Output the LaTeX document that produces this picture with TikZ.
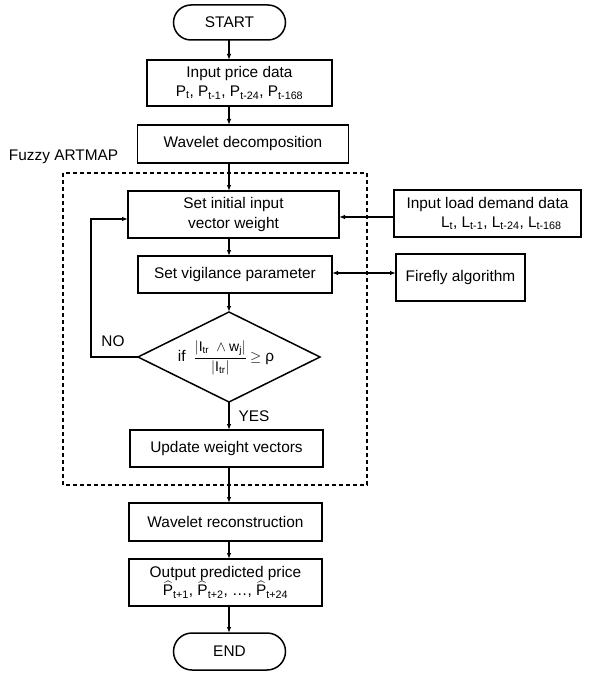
\documentclass[tikz,border=0pt]{standalone}
\usepackage{fontspec}
\usepackage{amsmath}
\setmainfont{Liberation Sans}
\usetikzlibrary{arrows.meta,shapes.geometric,shapes.misc}
\begin{document}
\begin{tikzpicture}[x=1pt,y=-1pt,
  every node/.style={font=\fontsize{15.4}{20}\selectfont, inner sep=0pt, outer sep=0pt},
  box/.style={draw, line width=1.5pt, rectangle, align=center},
  term/.style={draw, line width=1.5pt, rounded rectangle, minimum width=112pt},
  dec/.style={draw, line width=1.5pt, diamond, aspect=2.02, minimum width=182pt, minimum height=90pt},
  arr/.style={line width=1.1pt, -{Latex[length=6pt,width=4.5pt]}},
  darr/.style={line width=1.1pt, {Latex[length=6pt,width=4.5pt]}-{Latex[length=6pt,width=4.5pt]}},
  fuzzy/.style={draw, line width=1.8pt, dash pattern=on 4pt off 3pt}
]
\useasboundingbox (0,0) rectangle (589,679);
\node[term, minimum height=35pt] (start) at (229.5,22.5) {START};
\node[box, minimum width=185pt, minimum height=46pt] (inp) at (239.5,83) {Input price data\\[-1pt] P\textsubscript{t}, P\textsubscript{t-1}, P\textsubscript{t-24}, P\textsubscript{t-168}};
\node[box, minimum width=211pt, minimum height=38pt] (wd) at (243,144) {Wavelet decomposition};
\node[anchor=west] (lbl) at (9,157) {Fuzzy ARTMAP};
\draw[fuzzy] (63,173) rectangle (367,485);
\node[box, minimum width=211pt, minimum height=47pt] (sii) at (233.5,214.5) {Set initial input\\ vector weight};
\node[box, minimum width=187pt, minimum height=47pt] (load) at (487.5,213.5) {Input load demand data\\[-1pt] \hspace*{1.8em}L\textsubscript{t}, L\textsubscript{t-1}, L\textsubscript{t-24}, L\textsubscript{t-168}};
\node[box, minimum width=194pt, minimum height=37pt] (vig) at (235,274.5) {Set vigilance parameter};
\node[box, minimum width=129pt, minimum height=47pt] (ff) at (460.5,277.5) {Firefly algorithm};
\node[dec] (dc) at (229,357) {};
\node (dctext) at (226,358) {if\hspace{8pt}{\fontsize{14}{15}\selectfont$\dfrac{|\text{I}_{\text{tr}}\;\wedge\text{w}_{\text{j}}|}{|\text{I}_{\text{tr}}|}$}\hspace{3pt}$\geq$\hspace{4pt}ρ};
\node[box, minimum width=193pt, minimum height=37pt] (upd) at (226.5,448.5) {Update weight vectors};
\node[box, minimum width=193pt, minimum height=38pt] (rec) at (225.5,522) {Wavelet reconstruction};
\node[box, minimum width=193pt, minimum height=47pt] (out) at (225.5,582.5) {Output predicted price\\[-2pt] $\widehat{\text{P}}$\textsubscript{t+1}, $\widehat{\text{P}}$\textsubscript{t+2}, \dots, $\widehat{\text{P}}$\textsubscript{t+24}};
\node[term, minimum height=37pt] (end) at (229.5,651.5) {END};
\node (no) at (113,341) {NO};
\node (yes) at (254,416) {YES};
\coordinate (cx) at (229,0);
\coordinate (lp) at (91,0);
\draw[arr] (start.south -| cx) -- (inp.north -| cx);
\draw[arr] (inp.south -| cx) -- (wd.north -| cx);
\draw[arr] (wd.south -| cx) -- (sii.north -| cx);
\draw[arr] (sii.south -| cx) -- (vig.north -| cx);
\draw[arr] (vig.south -| cx) -- (dc.north);
\draw[arr] (dc.south) -- (upd.north -| cx);
\draw[arr] (upd.south -| cx) -- (rec.north -| cx);
\draw[arr] (rec.south -| cx) -- (out.north -| cx);
\draw[arr] (out.south -| cx) -- (end.north -| cx);
\draw[arr] (dc.west) -- (dc.west -| lp) -- ([yshift=-4.5pt]sii.west -| lp) -- ([yshift=-4.5pt]sii.west);
\draw[arr] ([yshift=-3.5pt]load.west) -- ([yshift=-3.5pt]load.west -| sii.east);
\draw[darr] ([yshift=1.5pt]vig.east) -- ([yshift=1.5pt]vig.east -| ff.west);
\end{tikzpicture}
\end{document}
